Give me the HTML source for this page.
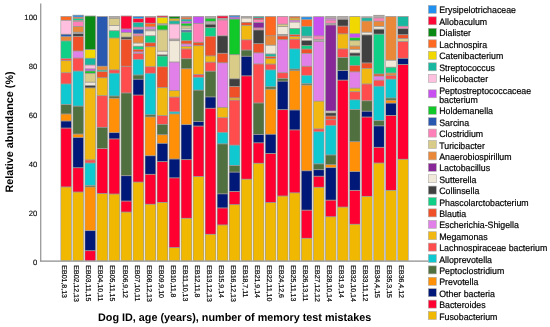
<!DOCTYPE html><html><head><meta charset="utf-8"><title>Relative abundance</title>
<style>html,body{margin:0;padding:0;background:#fff}svg{display:block}text{font-family:"Liberation Sans",Arial,sans-serif;fill:#000;text-rendering:geometricPrecision}</style></head><body>
<svg width="550" height="327" viewBox="0 0 550 327">
<rect width="550" height="327" fill="#fff"/>
<rect x="60.50" y="16.10" width="11.3" height="244.40" fill="#9E9A96"/>
<rect x="61.15" y="16.90" width="10.00" height="2.95" fill="#FF6820"/>
<rect x="61.15" y="20.75" width="10.00" height="13.10" fill="#FFC0E0"/>
<rect x="61.15" y="34.75" width="10.00" height="1.40" fill="#2858B0"/>
<rect x="61.15" y="37.05" width="10.00" height="3.40" fill="#E88838"/>
<rect x="61.15" y="41.35" width="10.00" height="16.75" fill="#10D088"/>
<rect x="61.15" y="59.00" width="10.00" height="1.15" fill="#FF4C4C"/>
<rect x="61.15" y="61.05" width="10.00" height="11.20" fill="#F0B810"/>
<rect x="61.15" y="73.15" width="10.00" height="10.30" fill="#FF4C4C"/>
<rect x="61.15" y="84.35" width="10.00" height="19.70" fill="#10C8D0"/>
<rect x="61.15" y="104.95" width="10.00" height="8.60" fill="#507040"/>
<rect x="61.15" y="114.45" width="10.00" height="6.10" fill="#FF9008"/>
<rect x="61.15" y="121.45" width="10.00" height="6.20" fill="#001878"/>
<rect x="61.15" y="128.55" width="10.00" height="57.95" fill="#FF0030"/>
<rect x="61.15" y="187.40" width="10.00" height="73.10" fill="#F0B800"/>
<rect x="72.53" y="14.80" width="11.3" height="245.70" fill="#9E9A96"/>
<rect x="73.18" y="15.60" width="10.00" height="1.15" fill="#2090F0"/>
<rect x="73.18" y="17.65" width="10.00" height="0.50" fill="#FF6820"/>
<rect x="73.18" y="18.90" width="10.00" height="1.05" fill="#10D088"/>
<rect x="73.18" y="20.85" width="10.00" height="0.50" fill="#B4ACAC"/>
<rect x="73.18" y="21.90" width="10.00" height="4.10" fill="#FF80B8"/>
<rect x="73.18" y="26.90" width="10.00" height="4.90" fill="#E88838"/>
<rect x="73.18" y="32.70" width="10.00" height="0.50" fill="#B4ACAC"/>
<rect x="73.18" y="34.05" width="10.00" height="1.90" fill="#404040"/>
<rect x="73.18" y="36.85" width="10.00" height="13.75" fill="#F05028"/>
<rect x="73.18" y="51.50" width="10.00" height="6.10" fill="#E080E8"/>
<rect x="73.18" y="58.50" width="10.00" height="12.15" fill="#FF4C4C"/>
<rect x="73.18" y="71.55" width="10.00" height="34.15" fill="#10C8D0"/>
<rect x="73.18" y="106.60" width="10.00" height="27.05" fill="#507040"/>
<rect x="73.18" y="134.55" width="10.00" height="2.50" fill="#FF9008"/>
<rect x="73.18" y="137.95" width="10.00" height="29.30" fill="#001878"/>
<rect x="73.18" y="168.15" width="10.00" height="23.45" fill="#FF0030"/>
<rect x="73.18" y="192.50" width="10.00" height="68.00" fill="#F0B800"/>
<rect x="84.56" y="15.60" width="11.3" height="244.90" fill="#9E9A96"/>
<rect x="85.21" y="16.40" width="10.00" height="32.70" fill="#0A8A14"/>
<rect x="85.21" y="50.00" width="10.00" height="7.85" fill="#F0D800"/>
<rect x="85.21" y="58.75" width="10.00" height="5.85" fill="#18B8A0"/>
<rect x="85.21" y="65.50" width="10.00" height="2.90" fill="#FFC0E0"/>
<rect x="85.21" y="69.30" width="10.00" height="1.15" fill="#C850F0"/>
<rect x="85.21" y="71.35" width="10.00" height="1.60" fill="#10C828"/>
<rect x="85.21" y="73.85" width="10.00" height="7.90" fill="#D8CC88"/>
<rect x="85.21" y="82.65" width="10.00" height="2.40" fill="#F0E8D8"/>
<rect x="85.21" y="85.95" width="10.00" height="1.45" fill="#404040"/>
<rect x="85.21" y="88.30" width="10.00" height="71.15" fill="#F0B810"/>
<rect x="85.21" y="160.35" width="10.00" height="2.20" fill="#FF4C4C"/>
<rect x="85.21" y="163.45" width="10.00" height="21.65" fill="#10C8D0"/>
<rect x="85.21" y="186.00" width="10.00" height="0.50" fill="#507040"/>
<rect x="85.21" y="187.40" width="10.00" height="42.75" fill="#FF9008"/>
<rect x="85.21" y="231.05" width="10.00" height="19.15" fill="#001878"/>
<rect x="85.21" y="251.10" width="10.00" height="9.40" fill="#FF0030"/>
<rect x="96.59" y="16.10" width="11.3" height="244.40" fill="#9E9A96"/>
<rect x="97.24" y="16.90" width="10.00" height="48.95" fill="#2858B0"/>
<rect x="97.24" y="66.75" width="10.00" height="2.90" fill="#E88838"/>
<rect x="97.24" y="70.55" width="10.00" height="0.55" fill="#10D088"/>
<rect x="97.24" y="72.00" width="10.00" height="5.25" fill="#F05028"/>
<rect x="97.24" y="78.15" width="10.00" height="17.05" fill="#F0B810"/>
<rect x="97.24" y="96.10" width="10.00" height="30.80" fill="#FF4C4C"/>
<rect x="97.24" y="127.80" width="10.00" height="20.25" fill="#507040"/>
<rect x="97.24" y="148.95" width="10.00" height="44.15" fill="#FF0030"/>
<rect x="97.24" y="194.00" width="10.00" height="66.50" fill="#F0B800"/>
<rect x="108.62" y="16.10" width="11.3" height="244.40" fill="#9E9A96"/>
<rect x="109.27" y="16.90" width="10.00" height="1.05" fill="#B4ACAC"/>
<rect x="109.27" y="18.85" width="10.00" height="6.15" fill="#D8CC88"/>
<rect x="109.27" y="25.90" width="10.00" height="4.30" fill="#F0E8D8"/>
<rect x="109.27" y="31.10" width="10.00" height="6.45" fill="#10D088"/>
<rect x="109.27" y="38.45" width="10.00" height="30.95" fill="#F0B810"/>
<rect x="109.27" y="70.30" width="10.00" height="2.50" fill="#FF4C4C"/>
<rect x="109.27" y="73.70" width="10.00" height="21.90" fill="#10C8D0"/>
<rect x="109.27" y="96.50" width="10.00" height="1.35" fill="#507040"/>
<rect x="109.27" y="98.75" width="10.00" height="33.40" fill="#FF9008"/>
<rect x="109.27" y="133.05" width="10.00" height="5.40" fill="#001878"/>
<rect x="109.27" y="139.35" width="10.00" height="54.25" fill="#FF0030"/>
<rect x="109.27" y="194.50" width="10.00" height="66.00" fill="#F0B800"/>
<rect x="120.65" y="15.60" width="11.3" height="244.90" fill="#9E9A96"/>
<rect x="121.30" y="16.40" width="10.00" height="12.15" fill="#FF0838"/>
<rect x="121.30" y="29.45" width="10.00" height="2.65" fill="#C850F0"/>
<rect x="121.30" y="33.00" width="10.00" height="3.55" fill="#D8CC88"/>
<rect x="121.30" y="37.45" width="10.00" height="1.40" fill="#404040"/>
<rect x="121.30" y="39.75" width="10.00" height="26.10" fill="#F05028"/>
<rect x="121.30" y="66.75" width="10.00" height="25.75" fill="#FF4C4C"/>
<rect x="121.30" y="93.40" width="10.00" height="81.80" fill="#507040"/>
<rect x="121.30" y="176.10" width="10.00" height="24.55" fill="#001878"/>
<rect x="121.30" y="201.55" width="10.00" height="10.10" fill="#FF0030"/>
<rect x="121.30" y="212.55" width="10.00" height="47.95" fill="#F0B800"/>
<rect x="132.68" y="16.10" width="11.3" height="244.40" fill="#9E9A96"/>
<rect x="133.33" y="16.90" width="10.00" height="1.25" fill="#2090F0"/>
<rect x="133.33" y="19.05" width="10.00" height="3.05" fill="#FF0838"/>
<rect x="133.33" y="23.00" width="10.00" height="3.75" fill="#18B8A0"/>
<rect x="133.33" y="27.65" width="10.00" height="1.20" fill="#FF80B8"/>
<rect x="133.33" y="29.75" width="10.00" height="3.60" fill="#2858B0"/>
<rect x="133.33" y="34.25" width="10.00" height="1.20" fill="#FF80B8"/>
<rect x="133.33" y="36.35" width="10.00" height="6.30" fill="#E88838"/>
<rect x="133.33" y="43.55" width="10.00" height="2.25" fill="#F0E8D8"/>
<rect x="133.33" y="46.70" width="10.00" height="2.30" fill="#10D088"/>
<rect x="133.33" y="49.90" width="10.00" height="1.50" fill="#F05028"/>
<rect x="133.33" y="52.30" width="10.00" height="0.70" fill="#E080E8"/>
<rect x="133.33" y="53.90" width="10.00" height="5.10" fill="#FF4C4C"/>
<rect x="133.33" y="59.90" width="10.00" height="14.65" fill="#10C8D0"/>
<rect x="133.33" y="75.45" width="10.00" height="3.40" fill="#507040"/>
<rect x="133.33" y="79.75" width="10.00" height="14.90" fill="#001878"/>
<rect x="133.33" y="95.55" width="10.00" height="86.15" fill="#FF0030"/>
<rect x="133.33" y="182.60" width="10.00" height="77.90" fill="#F0B800"/>
<rect x="144.71" y="16.10" width="11.3" height="244.40" fill="#9E9A96"/>
<rect x="145.36" y="16.90" width="10.00" height="0.50" fill="#B4ACAC"/>
<rect x="145.36" y="17.65" width="10.00" height="5.20" fill="#FF0838"/>
<rect x="145.36" y="23.75" width="10.00" height="2.65" fill="#FF6820"/>
<rect x="145.36" y="27.30" width="10.00" height="1.50" fill="#E080E8"/>
<rect x="145.36" y="29.70" width="10.00" height="0.65" fill="#B4ACAC"/>
<rect x="145.36" y="31.25" width="10.00" height="4.00" fill="#F0E8D8"/>
<rect x="145.36" y="36.15" width="10.00" height="6.15" fill="#10D088"/>
<rect x="145.36" y="43.20" width="10.00" height="3.05" fill="#F05028"/>
<rect x="145.36" y="47.15" width="10.00" height="19.10" fill="#F0B810"/>
<rect x="145.36" y="67.15" width="10.00" height="5.70" fill="#FF4C4C"/>
<rect x="145.36" y="73.75" width="10.00" height="40.55" fill="#10C8D0"/>
<rect x="145.36" y="115.20" width="10.00" height="1.25" fill="#507040"/>
<rect x="145.36" y="117.35" width="10.00" height="37.90" fill="#FF9008"/>
<rect x="145.36" y="156.15" width="10.00" height="17.75" fill="#001878"/>
<rect x="145.36" y="174.80" width="10.00" height="29.05" fill="#FF0030"/>
<rect x="145.36" y="204.75" width="10.00" height="55.75" fill="#F0B800"/>
<rect x="156.74" y="15.60" width="11.3" height="244.90" fill="#9E9A96"/>
<rect x="157.39" y="16.40" width="10.00" height="0.55" fill="#FF0838"/>
<rect x="157.39" y="17.85" width="10.00" height="5.45" fill="#F0D800"/>
<rect x="157.39" y="24.20" width="10.00" height="0.50" fill="#B4ACAC"/>
<rect x="157.39" y="25.50" width="10.00" height="4.00" fill="#10C828"/>
<rect x="157.39" y="30.40" width="10.00" height="20.35" fill="#D8CC88"/>
<rect x="157.39" y="51.65" width="10.00" height="2.65" fill="#F0E8D8"/>
<rect x="157.39" y="55.20" width="10.00" height="0.50" fill="#404040"/>
<rect x="157.39" y="56.40" width="10.00" height="9.90" fill="#10D088"/>
<rect x="157.39" y="67.20" width="10.00" height="19.95" fill="#F05028"/>
<rect x="157.39" y="88.05" width="10.00" height="27.05" fill="#F0B810"/>
<rect x="157.39" y="116.00" width="10.00" height="7.95" fill="#FF4C4C"/>
<rect x="157.39" y="124.85" width="10.00" height="9.40" fill="#507040"/>
<rect x="157.39" y="135.15" width="10.00" height="7.80" fill="#FF9008"/>
<rect x="157.39" y="143.85" width="10.00" height="17.30" fill="#001878"/>
<rect x="157.39" y="162.05" width="10.00" height="39.95" fill="#FF0030"/>
<rect x="157.39" y="202.90" width="10.00" height="57.60" fill="#F0B800"/>
<rect x="168.77" y="16.10" width="11.3" height="244.40" fill="#9E9A96"/>
<rect x="169.42" y="16.90" width="10.00" height="1.40" fill="#0A8A14"/>
<rect x="169.42" y="19.20" width="10.00" height="1.20" fill="#F0B810"/>
<rect x="169.42" y="21.30" width="10.00" height="2.30" fill="#18B8A0"/>
<rect x="169.42" y="24.50" width="10.00" height="14.10" fill="#FFC0E0"/>
<rect x="169.42" y="39.50" width="10.00" height="0.70" fill="#B4ACAC"/>
<rect x="169.42" y="41.10" width="10.00" height="20.45" fill="#F0E8D8"/>
<rect x="169.42" y="62.45" width="10.00" height="27.60" fill="#E080E8"/>
<rect x="169.42" y="90.95" width="10.00" height="5.70" fill="#F0B810"/>
<rect x="169.42" y="97.55" width="10.00" height="13.75" fill="#FF4C4C"/>
<rect x="169.42" y="112.20" width="10.00" height="1.25" fill="#10C8D0"/>
<rect x="169.42" y="114.35" width="10.00" height="44.20" fill="#FF9008"/>
<rect x="169.42" y="159.45" width="10.00" height="17.95" fill="#001878"/>
<rect x="169.42" y="178.30" width="10.00" height="68.80" fill="#FF0030"/>
<rect x="169.42" y="248.00" width="10.00" height="12.50" fill="#F0B800"/>
<rect x="180.80" y="16.10" width="11.3" height="244.40" fill="#9E9A96"/>
<rect x="181.45" y="16.90" width="10.00" height="0.50" fill="#B4ACAC"/>
<rect x="181.45" y="17.65" width="10.00" height="1.05" fill="#FF6820"/>
<rect x="181.45" y="19.60" width="10.00" height="1.30" fill="#18B8A0"/>
<rect x="181.45" y="21.80" width="10.00" height="1.10" fill="#C850F0"/>
<rect x="181.45" y="23.80" width="10.00" height="1.70" fill="#10C828"/>
<rect x="181.45" y="26.40" width="10.00" height="1.40" fill="#D8CC88"/>
<rect x="181.45" y="28.70" width="10.00" height="1.00" fill="#F0E8D8"/>
<rect x="181.45" y="30.60" width="10.00" height="0.90" fill="#2858B0"/>
<rect x="181.45" y="32.40" width="10.00" height="7.80" fill="#10D088"/>
<rect x="181.45" y="41.10" width="10.00" height="2.40" fill="#F05028"/>
<rect x="181.45" y="44.40" width="10.00" height="1.60" fill="#E080E8"/>
<rect x="181.45" y="46.90" width="10.00" height="1.60" fill="#F0B810"/>
<rect x="181.45" y="49.40" width="10.00" height="8.85" fill="#FF4C4C"/>
<rect x="181.45" y="59.15" width="10.00" height="9.10" fill="#507040"/>
<rect x="181.45" y="69.15" width="10.00" height="55.00" fill="#FF9008"/>
<rect x="181.45" y="125.05" width="10.00" height="34.10" fill="#001878"/>
<rect x="181.45" y="160.05" width="10.00" height="57.85" fill="#FF0030"/>
<rect x="181.45" y="218.80" width="10.00" height="41.70" fill="#F0B800"/>
<rect x="192.83" y="16.10" width="11.3" height="244.40" fill="#9E9A96"/>
<rect x="193.48" y="16.90" width="10.00" height="6.20" fill="#C850F0"/>
<rect x="193.48" y="24.00" width="10.00" height="17.90" fill="#FF80B8"/>
<rect x="193.48" y="42.80" width="10.00" height="2.40" fill="#F05028"/>
<rect x="193.48" y="46.10" width="10.00" height="27.90" fill="#F0B810"/>
<rect x="193.48" y="74.90" width="10.00" height="1.95" fill="#FF4C4C"/>
<rect x="193.48" y="77.75" width="10.00" height="12.00" fill="#10C8D0"/>
<rect x="193.48" y="90.65" width="10.00" height="30.40" fill="#507040"/>
<rect x="193.48" y="121.95" width="10.00" height="3.70" fill="#001878"/>
<rect x="193.48" y="126.55" width="10.00" height="49.55" fill="#FF0030"/>
<rect x="193.48" y="177.00" width="10.00" height="83.50" fill="#F0B800"/>
<rect x="204.86" y="16.10" width="11.3" height="244.40" fill="#9E9A96"/>
<rect x="205.51" y="16.90" width="10.00" height="0.95" fill="#B4ACAC"/>
<rect x="205.51" y="18.75" width="10.00" height="2.30" fill="#10C828"/>
<rect x="205.51" y="21.95" width="10.00" height="1.85" fill="#B4ACAC"/>
<rect x="205.51" y="24.70" width="10.00" height="2.45" fill="#404040"/>
<rect x="205.51" y="28.05" width="10.00" height="7.85" fill="#10D088"/>
<rect x="205.51" y="36.80" width="10.00" height="18.65" fill="#F05028"/>
<rect x="205.51" y="56.35" width="10.00" height="5.35" fill="#F0B810"/>
<rect x="205.51" y="62.60" width="10.00" height="8.20" fill="#FF4C4C"/>
<rect x="205.51" y="71.70" width="10.00" height="24.75" fill="#507040"/>
<rect x="205.51" y="97.35" width="10.00" height="10.50" fill="#001878"/>
<rect x="205.51" y="108.75" width="10.00" height="125.15" fill="#FF0030"/>
<rect x="205.51" y="234.80" width="10.00" height="25.70" fill="#F0B800"/>
<rect x="216.89" y="15.60" width="11.3" height="244.90" fill="#9E9A96"/>
<rect x="217.54" y="16.40" width="10.00" height="1.50" fill="#FF0838"/>
<rect x="217.54" y="18.80" width="10.00" height="0.70" fill="#B4ACAC"/>
<rect x="217.54" y="20.40" width="10.00" height="14.90" fill="#FF80B8"/>
<rect x="217.54" y="36.20" width="10.00" height="16.65" fill="#404040"/>
<rect x="217.54" y="53.75" width="10.00" height="8.60" fill="#F05028"/>
<rect x="217.54" y="63.25" width="10.00" height="43.70" fill="#E080E8"/>
<rect x="217.54" y="107.85" width="10.00" height="9.35" fill="#F0B810"/>
<rect x="217.54" y="118.10" width="10.00" height="13.85" fill="#FF4C4C"/>
<rect x="217.54" y="132.85" width="10.00" height="10.55" fill="#10C8D0"/>
<rect x="217.54" y="144.30" width="10.00" height="49.05" fill="#507040"/>
<rect x="217.54" y="194.25" width="10.00" height="13.25" fill="#001878"/>
<rect x="217.54" y="208.40" width="10.00" height="16.10" fill="#FF0030"/>
<rect x="217.54" y="225.40" width="10.00" height="35.10" fill="#F0B800"/>
<rect x="228.92" y="15.10" width="11.3" height="245.40" fill="#9E9A96"/>
<rect x="229.57" y="15.90" width="10.00" height="0.80" fill="#2090F0"/>
<rect x="229.57" y="17.60" width="10.00" height="0.95" fill="#C850F0"/>
<rect x="229.57" y="19.45" width="10.00" height="34.75" fill="#10C828"/>
<rect x="229.57" y="55.10" width="10.00" height="23.20" fill="#D8CC88"/>
<rect x="229.57" y="79.20" width="10.00" height="6.85" fill="#404040"/>
<rect x="229.57" y="86.95" width="10.00" height="10.50" fill="#F05028"/>
<rect x="229.57" y="98.35" width="10.00" height="1.30" fill="#F0B810"/>
<rect x="229.57" y="100.55" width="10.00" height="44.20" fill="#FF4C4C"/>
<rect x="229.57" y="145.65" width="10.00" height="19.40" fill="#10C8D0"/>
<rect x="229.57" y="165.95" width="10.00" height="5.75" fill="#507040"/>
<rect x="229.57" y="172.60" width="10.00" height="18.45" fill="#001878"/>
<rect x="229.57" y="191.95" width="10.00" height="12.20" fill="#FF0030"/>
<rect x="229.57" y="205.05" width="10.00" height="55.45" fill="#F0B800"/>
<rect x="240.95" y="16.10" width="11.3" height="244.40" fill="#9E9A96"/>
<rect x="241.60" y="16.90" width="10.00" height="0.70" fill="#B4ACAC"/>
<rect x="241.60" y="18.50" width="10.00" height="3.45" fill="#F0E8D8"/>
<rect x="241.60" y="22.85" width="10.00" height="2.10" fill="#F05028"/>
<rect x="241.60" y="25.85" width="10.00" height="13.50" fill="#F0B810"/>
<rect x="241.60" y="40.25" width="10.00" height="9.40" fill="#FF4C4C"/>
<rect x="241.60" y="50.55" width="10.00" height="5.30" fill="#507040"/>
<rect x="241.60" y="56.75" width="10.00" height="18.65" fill="#001878"/>
<rect x="241.60" y="76.30" width="10.00" height="102.50" fill="#FF0030"/>
<rect x="241.60" y="179.70" width="10.00" height="80.80" fill="#F0B800"/>
<rect x="252.98" y="16.10" width="11.3" height="244.40" fill="#9E9A96"/>
<rect x="253.63" y="16.90" width="10.00" height="0.75" fill="#18B8A0"/>
<rect x="253.63" y="18.55" width="10.00" height="0.60" fill="#FF0838"/>
<rect x="253.63" y="20.05" width="10.00" height="1.90" fill="#FF80B8"/>
<rect x="253.63" y="22.85" width="10.00" height="4.65" fill="#882898"/>
<rect x="253.63" y="28.40" width="10.00" height="1.05" fill="#FF80B8"/>
<rect x="253.63" y="30.35" width="10.00" height="12.80" fill="#404040"/>
<rect x="253.63" y="44.05" width="10.00" height="8.35" fill="#F05028"/>
<rect x="253.63" y="53.30" width="10.00" height="10.15" fill="#E080E8"/>
<rect x="253.63" y="64.35" width="10.00" height="38.20" fill="#FF4C4C"/>
<rect x="253.63" y="103.45" width="10.00" height="30.55" fill="#507040"/>
<rect x="253.63" y="134.90" width="10.00" height="7.45" fill="#001878"/>
<rect x="253.63" y="143.25" width="10.00" height="19.60" fill="#FF0030"/>
<rect x="253.63" y="163.75" width="10.00" height="96.75" fill="#F0B800"/>
<rect x="265.01" y="16.10" width="11.3" height="244.40" fill="#9E9A96"/>
<rect x="265.66" y="16.90" width="10.00" height="18.40" fill="#FF6820"/>
<rect x="265.66" y="36.20" width="10.00" height="8.60" fill="#E88838"/>
<rect x="265.66" y="45.70" width="10.00" height="7.80" fill="#F0E8D8"/>
<rect x="265.66" y="54.40" width="10.00" height="1.55" fill="#18B8A0"/>
<rect x="265.66" y="56.85" width="10.00" height="1.30" fill="#F05028"/>
<rect x="265.66" y="59.05" width="10.00" height="4.60" fill="#F0B810"/>
<rect x="265.66" y="64.55" width="10.00" height="4.85" fill="#FF4C4C"/>
<rect x="265.66" y="70.30" width="10.00" height="16.00" fill="#10C8D0"/>
<rect x="265.66" y="87.20" width="10.00" height="1.55" fill="#507040"/>
<rect x="265.66" y="89.65" width="10.00" height="44.20" fill="#FF9008"/>
<rect x="265.66" y="134.75" width="10.00" height="18.30" fill="#001878"/>
<rect x="265.66" y="153.95" width="10.00" height="48.15" fill="#FF0030"/>
<rect x="265.66" y="203.00" width="10.00" height="57.50" fill="#F0B800"/>
<rect x="277.04" y="16.10" width="11.3" height="244.40" fill="#9E9A96"/>
<rect x="277.69" y="16.90" width="10.00" height="6.85" fill="#FF80B8"/>
<rect x="277.69" y="24.65" width="10.00" height="1.45" fill="#D8CC88"/>
<rect x="277.69" y="27.00" width="10.00" height="7.00" fill="#F0E8D8"/>
<rect x="277.69" y="34.90" width="10.00" height="0.60" fill="#B4ACAC"/>
<rect x="277.69" y="36.40" width="10.00" height="2.75" fill="#F05028"/>
<rect x="277.69" y="40.05" width="10.00" height="32.20" fill="#E080E8"/>
<rect x="277.69" y="73.15" width="10.00" height="4.90" fill="#FF4C4C"/>
<rect x="277.69" y="78.95" width="10.00" height="1.80" fill="#507040"/>
<rect x="277.69" y="81.65" width="10.00" height="27.50" fill="#001878"/>
<rect x="277.69" y="110.05" width="10.00" height="85.55" fill="#FF0030"/>
<rect x="277.69" y="196.50" width="10.00" height="64.00" fill="#F0B800"/>
<rect x="289.07" y="16.10" width="11.3" height="244.40" fill="#9E9A96"/>
<rect x="289.72" y="16.90" width="10.00" height="0.75" fill="#FF6820"/>
<rect x="289.72" y="18.55" width="10.00" height="1.10" fill="#F0B810"/>
<rect x="289.72" y="20.55" width="10.00" height="1.10" fill="#E080E8"/>
<rect x="289.72" y="22.55" width="10.00" height="5.50" fill="#F0E8D8"/>
<rect x="289.72" y="28.95" width="10.00" height="5.15" fill="#10D088"/>
<rect x="289.72" y="35.00" width="10.00" height="1.10" fill="#F05028"/>
<rect x="289.72" y="37.00" width="10.00" height="1.75" fill="#F0B810"/>
<rect x="289.72" y="39.65" width="10.00" height="8.70" fill="#FF4C4C"/>
<rect x="289.72" y="49.25" width="10.00" height="19.40" fill="#10C8D0"/>
<rect x="289.72" y="69.55" width="10.00" height="0.60" fill="#507040"/>
<rect x="289.72" y="71.05" width="10.00" height="38.50" fill="#FF9008"/>
<rect x="289.72" y="110.45" width="10.00" height="19.00" fill="#001878"/>
<rect x="289.72" y="130.35" width="10.00" height="62.00" fill="#FF0030"/>
<rect x="289.72" y="193.25" width="10.00" height="67.25" fill="#F0B800"/>
<rect x="301.10" y="16.50" width="11.3" height="244.00" fill="#9E9A96"/>
<rect x="301.75" y="17.30" width="10.00" height="1.75" fill="#2090F0"/>
<rect x="301.75" y="19.95" width="10.00" height="6.05" fill="#FF6820"/>
<rect x="301.75" y="26.90" width="10.00" height="8.85" fill="#18B8A0"/>
<rect x="301.75" y="36.65" width="10.00" height="0.70" fill="#B4ACAC"/>
<rect x="301.75" y="38.25" width="10.00" height="1.80" fill="#F0E8D8"/>
<rect x="301.75" y="40.95" width="10.00" height="4.20" fill="#404040"/>
<rect x="301.75" y="46.05" width="10.00" height="2.60" fill="#10D088"/>
<rect x="301.75" y="49.55" width="10.00" height="3.50" fill="#F05028"/>
<rect x="301.75" y="53.95" width="10.00" height="11.90" fill="#E080E8"/>
<rect x="301.75" y="66.75" width="10.00" height="8.20" fill="#FF4C4C"/>
<rect x="301.75" y="75.85" width="10.00" height="7.35" fill="#10C8D0"/>
<rect x="301.75" y="84.10" width="10.00" height="0.55" fill="#507040"/>
<rect x="301.75" y="85.55" width="10.00" height="84.75" fill="#FF9008"/>
<rect x="301.75" y="171.20" width="10.00" height="38.55" fill="#001878"/>
<rect x="301.75" y="210.65" width="10.00" height="27.25" fill="#FF0030"/>
<rect x="301.75" y="238.80" width="10.00" height="21.70" fill="#F0B800"/>
<rect x="313.13" y="16.20" width="11.3" height="244.30" fill="#9E9A96"/>
<rect x="313.78" y="17.00" width="10.00" height="18.50" fill="#C850F0"/>
<rect x="313.78" y="36.40" width="10.00" height="2.50" fill="#FF80B8"/>
<rect x="313.78" y="39.80" width="10.00" height="1.15" fill="#B4ACAC"/>
<rect x="313.78" y="41.85" width="10.00" height="58.85" fill="#E080E8"/>
<rect x="313.78" y="101.60" width="10.00" height="26.80" fill="#F0B810"/>
<rect x="313.78" y="129.30" width="10.00" height="1.90" fill="#FF4C4C"/>
<rect x="313.78" y="132.10" width="10.00" height="31.30" fill="#10C8D0"/>
<rect x="313.78" y="164.30" width="10.00" height="4.90" fill="#507040"/>
<rect x="313.78" y="170.10" width="10.00" height="5.70" fill="#001878"/>
<rect x="313.78" y="176.70" width="10.00" height="10.15" fill="#FF0030"/>
<rect x="313.78" y="187.75" width="10.00" height="72.75" fill="#F0B800"/>
<rect x="325.16" y="16.10" width="11.3" height="244.40" fill="#9E9A96"/>
<rect x="325.81" y="16.90" width="10.00" height="0.90" fill="#B4ACAC"/>
<rect x="325.81" y="18.70" width="10.00" height="0.95" fill="#E080E8"/>
<rect x="325.81" y="20.55" width="10.00" height="2.35" fill="#FF80B8"/>
<rect x="325.81" y="23.80" width="10.00" height="0.65" fill="#B4ACAC"/>
<rect x="325.81" y="25.35" width="10.00" height="85.25" fill="#882898"/>
<rect x="325.81" y="111.50" width="10.00" height="0.85" fill="#F0E8D8"/>
<rect x="325.81" y="113.25" width="10.00" height="2.35" fill="#404040"/>
<rect x="325.81" y="116.50" width="10.00" height="2.70" fill="#F05028"/>
<rect x="325.81" y="120.10" width="10.00" height="4.85" fill="#FF4C4C"/>
<rect x="325.81" y="125.85" width="10.00" height="28.65" fill="#10C8D0"/>
<rect x="325.81" y="155.40" width="10.00" height="8.80" fill="#507040"/>
<rect x="325.81" y="165.10" width="10.00" height="2.05" fill="#FF9008"/>
<rect x="325.81" y="168.05" width="10.00" height="31.70" fill="#001878"/>
<rect x="325.81" y="200.65" width="10.00" height="15.60" fill="#FF0030"/>
<rect x="325.81" y="217.15" width="10.00" height="43.35" fill="#F0B800"/>
<rect x="337.19" y="16.10" width="11.3" height="244.40" fill="#9E9A96"/>
<rect x="337.84" y="16.90" width="10.00" height="2.05" fill="#B4ACAC"/>
<rect x="337.84" y="19.85" width="10.00" height="5.85" fill="#404040"/>
<rect x="337.84" y="26.60" width="10.00" height="6.80" fill="#F05028"/>
<rect x="337.84" y="34.30" width="10.00" height="14.10" fill="#F0B810"/>
<rect x="337.84" y="49.30" width="10.00" height="7.80" fill="#FF4C4C"/>
<rect x="337.84" y="58.00" width="10.00" height="12.10" fill="#507040"/>
<rect x="337.84" y="71.00" width="10.00" height="8.70" fill="#001878"/>
<rect x="337.84" y="80.60" width="10.00" height="126.05" fill="#FF0030"/>
<rect x="337.84" y="207.55" width="10.00" height="52.95" fill="#F0B800"/>
<rect x="349.22" y="16.10" width="11.3" height="244.40" fill="#9E9A96"/>
<rect x="349.87" y="16.90" width="10.00" height="16.30" fill="#F0D800"/>
<rect x="349.87" y="34.10" width="10.00" height="3.10" fill="#C850F0"/>
<rect x="349.87" y="38.10" width="10.00" height="2.10" fill="#10C828"/>
<rect x="349.87" y="41.10" width="10.00" height="4.50" fill="#D8CC88"/>
<rect x="349.87" y="46.50" width="10.00" height="2.45" fill="#E88838"/>
<rect x="349.87" y="49.85" width="10.00" height="2.65" fill="#F0E8D8"/>
<rect x="349.87" y="53.40" width="10.00" height="2.10" fill="#404040"/>
<rect x="349.87" y="56.40" width="10.00" height="8.60" fill="#10D088"/>
<rect x="349.87" y="65.90" width="10.00" height="5.50" fill="#F05028"/>
<rect x="349.87" y="72.30" width="10.00" height="15.40" fill="#E080E8"/>
<rect x="349.87" y="88.60" width="10.00" height="2.60" fill="#F0B810"/>
<rect x="349.87" y="92.10" width="10.00" height="7.20" fill="#FF4C4C"/>
<rect x="349.87" y="100.20" width="10.00" height="8.90" fill="#10C8D0"/>
<rect x="349.87" y="110.00" width="10.00" height="31.20" fill="#507040"/>
<rect x="349.87" y="142.10" width="10.00" height="29.00" fill="#FF9008"/>
<rect x="349.87" y="172.00" width="10.00" height="17.95" fill="#001878"/>
<rect x="349.87" y="190.85" width="10.00" height="33.00" fill="#FF0030"/>
<rect x="349.87" y="224.75" width="10.00" height="35.75" fill="#F0B800"/>
<rect x="361.25" y="16.30" width="11.3" height="244.20" fill="#9E9A96"/>
<rect x="361.90" y="17.10" width="10.00" height="0.50" fill="#B4ACAC"/>
<rect x="361.90" y="18.25" width="10.00" height="2.35" fill="#18B8A0"/>
<rect x="361.90" y="21.50" width="10.00" height="10.30" fill="#E88838"/>
<rect x="361.90" y="32.70" width="10.00" height="1.70" fill="#F0E8D8"/>
<rect x="361.90" y="35.30" width="10.00" height="27.20" fill="#404040"/>
<rect x="361.90" y="63.40" width="10.00" height="4.60" fill="#F05028"/>
<rect x="361.90" y="68.90" width="10.00" height="14.60" fill="#F0B810"/>
<rect x="361.90" y="84.40" width="10.00" height="15.90" fill="#FF4C4C"/>
<rect x="361.90" y="101.20" width="10.00" height="9.60" fill="#507040"/>
<rect x="361.90" y="111.70" width="10.00" height="4.90" fill="#001878"/>
<rect x="361.90" y="117.50" width="10.00" height="78.45" fill="#FF0030"/>
<rect x="361.90" y="196.85" width="10.00" height="63.65" fill="#F0B800"/>
<rect x="373.28" y="14.90" width="11.3" height="245.60" fill="#9E9A96"/>
<rect x="373.93" y="15.70" width="10.00" height="1.75" fill="#B4ACAC"/>
<rect x="373.93" y="18.35" width="10.00" height="2.45" fill="#FF80B8"/>
<rect x="373.93" y="21.70" width="10.00" height="4.30" fill="#E88838"/>
<rect x="373.93" y="26.90" width="10.00" height="1.90" fill="#F0E8D8"/>
<rect x="373.93" y="29.70" width="10.00" height="4.00" fill="#404040"/>
<rect x="373.93" y="34.60" width="10.00" height="38.90" fill="#10D088"/>
<rect x="373.93" y="74.40" width="10.00" height="1.30" fill="#F05028"/>
<rect x="373.93" y="76.60" width="10.00" height="3.20" fill="#E080E8"/>
<rect x="373.93" y="80.70" width="10.00" height="5.10" fill="#FF4C4C"/>
<rect x="373.93" y="86.70" width="10.00" height="33.45" fill="#10C8D0"/>
<rect x="373.93" y="121.05" width="10.00" height="4.35" fill="#507040"/>
<rect x="373.93" y="126.30" width="10.00" height="20.60" fill="#001878"/>
<rect x="373.93" y="147.80" width="10.00" height="14.80" fill="#FF0030"/>
<rect x="373.93" y="163.50" width="10.00" height="97.00" fill="#F0B800"/>
<rect x="385.31" y="16.10" width="11.3" height="244.40" fill="#9E9A96"/>
<rect x="385.96" y="16.90" width="10.00" height="42.90" fill="#E88838"/>
<rect x="385.96" y="60.70" width="10.00" height="6.10" fill="#F0E8D8"/>
<rect x="385.96" y="67.70" width="10.00" height="4.85" fill="#10D088"/>
<rect x="385.96" y="73.45" width="10.00" height="1.45" fill="#E88838"/>
<rect x="385.96" y="75.80" width="10.00" height="2.90" fill="#FF4C4C"/>
<rect x="385.96" y="79.60" width="10.00" height="17.95" fill="#10C8D0"/>
<rect x="385.96" y="98.45" width="10.00" height="1.35" fill="#507040"/>
<rect x="385.96" y="100.70" width="10.00" height="2.00" fill="#FF9008"/>
<rect x="385.96" y="103.60" width="10.00" height="11.40" fill="#001878"/>
<rect x="385.96" y="115.90" width="10.00" height="74.05" fill="#FF0030"/>
<rect x="385.96" y="190.85" width="10.00" height="69.65" fill="#F0B800"/>
<rect x="397.34" y="16.10" width="11.3" height="244.40" fill="#9E9A96"/>
<rect x="397.99" y="16.90" width="10.00" height="8.95" fill="#18B8A0"/>
<rect x="397.99" y="26.75" width="10.00" height="1.40" fill="#FF80B8"/>
<rect x="397.99" y="29.05" width="10.00" height="5.15" fill="#404040"/>
<rect x="397.99" y="35.10" width="10.00" height="3.00" fill="#F05028"/>
<rect x="397.99" y="39.00" width="10.00" height="2.00" fill="#D8CC88"/>
<rect x="397.99" y="41.90" width="10.00" height="16.00" fill="#FF4C4C"/>
<rect x="397.99" y="58.80" width="10.00" height="5.30" fill="#001878"/>
<rect x="397.99" y="65.00" width="10.00" height="93.85" fill="#FF0030"/>
<rect x="397.99" y="159.75" width="10.00" height="100.75" fill="#F0B800"/>
<rect x="40.2" y="3.5" width="1.1" height="258" fill="#888"/>
<rect x="40.2" y="260.5" width="388.1" height="1.2" fill="#888"/>
<text x="37.2" y="265.1" font-size="7.7" text-anchor="end" fill="#111" stroke="#111" stroke-width="0.12">0</text>
<text x="37.2" y="216.1" font-size="7.7" text-anchor="end" fill="#111" stroke="#111" stroke-width="0.12">20</text>
<text x="37.2" y="167.1" font-size="7.7" text-anchor="end" fill="#111" stroke="#111" stroke-width="0.12">40</text>
<text x="37.2" y="118.0" font-size="7.7" text-anchor="end" fill="#111" stroke="#111" stroke-width="0.12">60</text>
<text x="37.2" y="69.0" font-size="7.7" text-anchor="end" fill="#111" stroke="#111" stroke-width="0.12">80</text>
<text x="37.2" y="20.0" font-size="7.7" text-anchor="end" fill="#111" stroke="#111" stroke-width="0.12">100</text>
<text transform="translate(12.7,132) rotate(-90)" font-size="10.8" font-weight="bold" text-anchor="middle">Relative abundance (%)</text>
<text transform="translate(62.35,265.3) rotate(90)" font-size="7" fill="#111" stroke="#111" stroke-width="0.2">EB01,8,13</text>
<text transform="translate(74.38,265.3) rotate(90)" font-size="7" fill="#111" stroke="#111" stroke-width="0.2">EB02,12,13</text>
<text transform="translate(86.41,265.3) rotate(90)" font-size="7" fill="#111" stroke="#111" stroke-width="0.2">EB03,11,15</text>
<text transform="translate(98.44,265.3) rotate(90)" font-size="7" fill="#111" stroke="#111" stroke-width="0.2">EB04,10,11</text>
<text transform="translate(110.47,265.3) rotate(90)" font-size="7" fill="#111" stroke="#111" stroke-width="0.2">EB05,11,15</text>
<text transform="translate(122.50,265.3) rotate(90)" font-size="7" fill="#111" stroke="#111" stroke-width="0.2">EB06,9,12</text>
<text transform="translate(134.53,265.3) rotate(90)" font-size="7" fill="#111" stroke="#111" stroke-width="0.2">EB07,10,11</text>
<text transform="translate(146.56,265.3) rotate(90)" font-size="7" fill="#111" stroke="#111" stroke-width="0.2">EB08,12,13</text>
<text transform="translate(158.59,265.3) rotate(90)" font-size="7" fill="#111" stroke="#111" stroke-width="0.2">EB09,9,10</text>
<text transform="translate(170.62,265.3) rotate(90)" font-size="7" fill="#111" stroke="#111" stroke-width="0.2">EB10,11,8</text>
<text transform="translate(182.65,265.3) rotate(90)" font-size="7" fill="#111" stroke="#111" stroke-width="0.2">EB11,10,13</text>
<text transform="translate(194.68,265.3) rotate(90)" font-size="7" fill="#111" stroke="#111" stroke-width="0.2">EB12,11,8</text>
<text transform="translate(206.71,265.3) rotate(90)" font-size="7" fill="#111" stroke="#111" stroke-width="0.2">EB13,12,13</text>
<text transform="translate(218.74,265.3) rotate(90)" font-size="7" fill="#111" stroke="#111" stroke-width="0.2">EB15,9,14</text>
<text transform="translate(230.77,265.3) rotate(90)" font-size="7" fill="#111" stroke="#111" stroke-width="0.2">EB16,12,13</text>
<text transform="translate(242.80,265.3) rotate(90)" font-size="7" fill="#111" stroke="#111" stroke-width="0.2">EB18,7,11</text>
<text transform="translate(254.83,265.3) rotate(90)" font-size="7" fill="#111" stroke="#111" stroke-width="0.2">EB21,9,14</text>
<text transform="translate(266.86,265.3) rotate(90)" font-size="7" fill="#111" stroke="#111" stroke-width="0.2">EB22,11,10</text>
<text transform="translate(278.89,265.3) rotate(90)" font-size="7" fill="#111" stroke="#111" stroke-width="0.2">EB24,12,6</text>
<text transform="translate(290.92,265.3) rotate(90)" font-size="7" fill="#111" stroke="#111" stroke-width="0.2">EB25,11,13</text>
<text transform="translate(302.95,265.3) rotate(90)" font-size="7" fill="#111" stroke="#111" stroke-width="0.2">EB26,13,11</text>
<text transform="translate(314.98,265.3) rotate(90)" font-size="7" fill="#111" stroke="#111" stroke-width="0.2">EB27,12,12</text>
<text transform="translate(327.01,265.3) rotate(90)" font-size="7" fill="#111" stroke="#111" stroke-width="0.2">EB28,10,14</text>
<text transform="translate(339.04,265.3) rotate(90)" font-size="7" fill="#111" stroke="#111" stroke-width="0.2">EB31,9,14</text>
<text transform="translate(351.07,265.3) rotate(90)" font-size="7" fill="#111" stroke="#111" stroke-width="0.2">EB32,10,14</text>
<text transform="translate(363.10,265.3) rotate(90)" font-size="7" fill="#111" stroke="#111" stroke-width="0.2">EB33,11,12</text>
<text transform="translate(375.13,265.3) rotate(90)" font-size="7" fill="#111" stroke="#111" stroke-width="0.2">EB34,4,15</text>
<text transform="translate(387.16,265.3) rotate(90)" font-size="7" fill="#111" stroke="#111" stroke-width="0.2">EB35,3,15</text>
<text transform="translate(399.19,265.3) rotate(90)" font-size="7" fill="#111" stroke="#111" stroke-width="0.2">EB36,4,12</text>
<text transform="translate(234.6,321.4) scale(0.982,1)" font-size="11" font-weight="bold" text-anchor="middle">Dog ID, age (years), number of memory test mistakes</text>
<rect x="428.3" y="5.3" width="8" height="8" fill="#2090F0" stroke="#B0ACA8" stroke-width="0.6"/>
<text transform="translate(439.2,13.3) scale(0.946,1)" font-size="9.3" stroke="#000" stroke-width="0.2">Erysipelotrichaceae</text>
<rect x="428.3" y="16.8" width="8" height="8" fill="#FF0838" stroke="#B0ACA8" stroke-width="0.6"/>
<text transform="translate(439.2,24.8) scale(0.946,1)" font-size="9.3" stroke="#000" stroke-width="0.2">Allobaculum</text>
<rect x="428.3" y="28.3" width="8" height="8" fill="#0A8A14" stroke="#B0ACA8" stroke-width="0.6"/>
<text transform="translate(439.2,36.3) scale(0.946,1)" font-size="9.3" stroke="#000" stroke-width="0.2">Dialister</text>
<rect x="428.3" y="39.8" width="8" height="8" fill="#FF6820" stroke="#B0ACA8" stroke-width="0.6"/>
<text transform="translate(439.2,47.8) scale(0.946,1)" font-size="9.3" stroke="#000" stroke-width="0.2">Lachnospira</text>
<rect x="428.3" y="51.3" width="8" height="8" fill="#F0D800" stroke="#B0ACA8" stroke-width="0.6"/>
<text transform="translate(439.2,59.3) scale(0.946,1)" font-size="9.3" stroke="#000" stroke-width="0.2">Catenibacterium</text>
<rect x="428.3" y="62.8" width="8" height="8" fill="#18B8A0" stroke="#B0ACA8" stroke-width="0.6"/>
<text transform="translate(439.2,70.8) scale(0.946,1)" font-size="9.3" stroke="#000" stroke-width="0.2">Streptococcus</text>
<rect x="428.3" y="74.3" width="8" height="8" fill="#FFC0E0" stroke="#B0ACA8" stroke-width="0.6"/>
<text transform="translate(439.2,82.3) scale(0.946,1)" font-size="9.3" stroke="#000" stroke-width="0.2">Helicobacter</text>
<rect x="428.3" y="89.8" width="8" height="8" fill="#C850F0" stroke="#B0ACA8" stroke-width="0.6"/>
<text transform="translate(439.2,93.7) scale(0.946,1)" font-size="9.3" stroke="#000" stroke-width="0.2">Peptostreptococcaceae</text>
<text transform="translate(439.2,102.5) scale(0.946,1)" font-size="9.3" stroke="#000" stroke-width="0.2">bacterium</text>
<rect x="428.3" y="106.3" width="8" height="8" fill="#10C828" stroke="#B0ACA8" stroke-width="0.6"/>
<text transform="translate(439.2,114.3) scale(0.946,1)" font-size="9.3" stroke="#000" stroke-width="0.2">Holdemanella</text>
<rect x="428.3" y="117.7" width="8" height="8" fill="#2858B0" stroke="#B0ACA8" stroke-width="0.6"/>
<text transform="translate(439.2,125.7) scale(0.946,1)" font-size="9.3" stroke="#000" stroke-width="0.2">Sarcina</text>
<rect x="428.3" y="129.1" width="8" height="8" fill="#FF80B8" stroke="#B0ACA8" stroke-width="0.6"/>
<text transform="translate(439.2,137.1) scale(0.946,1)" font-size="9.3" stroke="#000" stroke-width="0.2">Clostridium</text>
<rect x="428.3" y="140.5" width="8" height="8" fill="#D8CC88" stroke="#B0ACA8" stroke-width="0.6"/>
<text transform="translate(439.2,148.5) scale(0.946,1)" font-size="9.3" stroke="#000" stroke-width="0.2">Turicibacter</text>
<rect x="428.3" y="151.9" width="8" height="8" fill="#E88838" stroke="#B0ACA8" stroke-width="0.6"/>
<text transform="translate(439.2,159.9) scale(0.946,1)" font-size="9.3" stroke="#000" stroke-width="0.2">Anaerobiospirillum</text>
<rect x="428.3" y="163.3" width="8" height="8" fill="#882898" stroke="#B0ACA8" stroke-width="0.6"/>
<text transform="translate(439.2,171.3) scale(0.946,1)" font-size="9.3" stroke="#000" stroke-width="0.2">Lactobacillus</text>
<rect x="428.3" y="174.7" width="8" height="8" fill="#F0E8D8" stroke="#B0ACA8" stroke-width="0.6"/>
<text transform="translate(439.2,182.7) scale(0.946,1)" font-size="9.3" stroke="#000" stroke-width="0.2">Sutterella</text>
<rect x="428.3" y="186.1" width="8" height="8" fill="#404040" stroke="#B0ACA8" stroke-width="0.6"/>
<text transform="translate(439.2,194.1) scale(0.946,1)" font-size="9.3" stroke="#000" stroke-width="0.2">Collinsella</text>
<rect x="428.3" y="197.5" width="8" height="8" fill="#10D088" stroke="#B0ACA8" stroke-width="0.6"/>
<text transform="translate(439.2,205.5) scale(0.946,1)" font-size="9.3" stroke="#000" stroke-width="0.2">Phascolarctobacterium</text>
<rect x="428.3" y="208.9" width="8" height="8" fill="#F05028" stroke="#B0ACA8" stroke-width="0.6"/>
<text transform="translate(439.2,216.9) scale(0.946,1)" font-size="9.3" stroke="#000" stroke-width="0.2">Blautia</text>
<rect x="428.3" y="220.3" width="8" height="8" fill="#E080E8" stroke="#B0ACA8" stroke-width="0.6"/>
<text transform="translate(439.2,228.3) scale(0.946,1)" font-size="9.3" stroke="#000" stroke-width="0.2">Escherichia-Shigella</text>
<rect x="428.3" y="231.7" width="8" height="8" fill="#F0B810" stroke="#B0ACA8" stroke-width="0.6"/>
<text transform="translate(439.2,239.7) scale(0.946,1)" font-size="9.3" stroke="#000" stroke-width="0.2">Megamonas</text>
<rect x="428.3" y="243.1" width="8" height="8" fill="#FF4C4C" stroke="#B0ACA8" stroke-width="0.6"/>
<text transform="translate(439.2,251.1) scale(0.946,1)" font-size="9.3" stroke="#000" stroke-width="0.2">Lachnospiraceae bacterium</text>
<rect x="428.3" y="254.5" width="8" height="8" fill="#10C8D0" stroke="#B0ACA8" stroke-width="0.6"/>
<text transform="translate(439.2,262.5) scale(0.946,1)" font-size="9.3" stroke="#000" stroke-width="0.2">Alloprevotella</text>
<rect x="428.3" y="265.9" width="8" height="8" fill="#507040" stroke="#B0ACA8" stroke-width="0.6"/>
<text transform="translate(439.2,273.9) scale(0.946,1)" font-size="9.3" stroke="#000" stroke-width="0.2">Peptoclostridium</text>
<rect x="428.3" y="277.3" width="8" height="8" fill="#FF9008" stroke="#B0ACA8" stroke-width="0.6"/>
<text transform="translate(439.2,285.3) scale(0.946,1)" font-size="9.3" stroke="#000" stroke-width="0.2">Prevotella</text>
<rect x="428.3" y="288.7" width="8" height="8" fill="#001878" stroke="#B0ACA8" stroke-width="0.6"/>
<text transform="translate(439.2,296.7) scale(0.946,1)" font-size="9.3" stroke="#000" stroke-width="0.2">Other bacteria</text>
<rect x="428.3" y="300.1" width="8" height="8" fill="#FF0030" stroke="#B0ACA8" stroke-width="0.6"/>
<text transform="translate(439.2,308.1) scale(0.946,1)" font-size="9.3" stroke="#000" stroke-width="0.2">Bacteroides</text>
<rect x="428.3" y="311.5" width="8" height="8" fill="#F0B800" stroke="#B0ACA8" stroke-width="0.6"/>
<text transform="translate(439.2,319.5) scale(0.946,1)" font-size="9.3" stroke="#000" stroke-width="0.2">Fusobacterium</text>
</svg></body></html>
